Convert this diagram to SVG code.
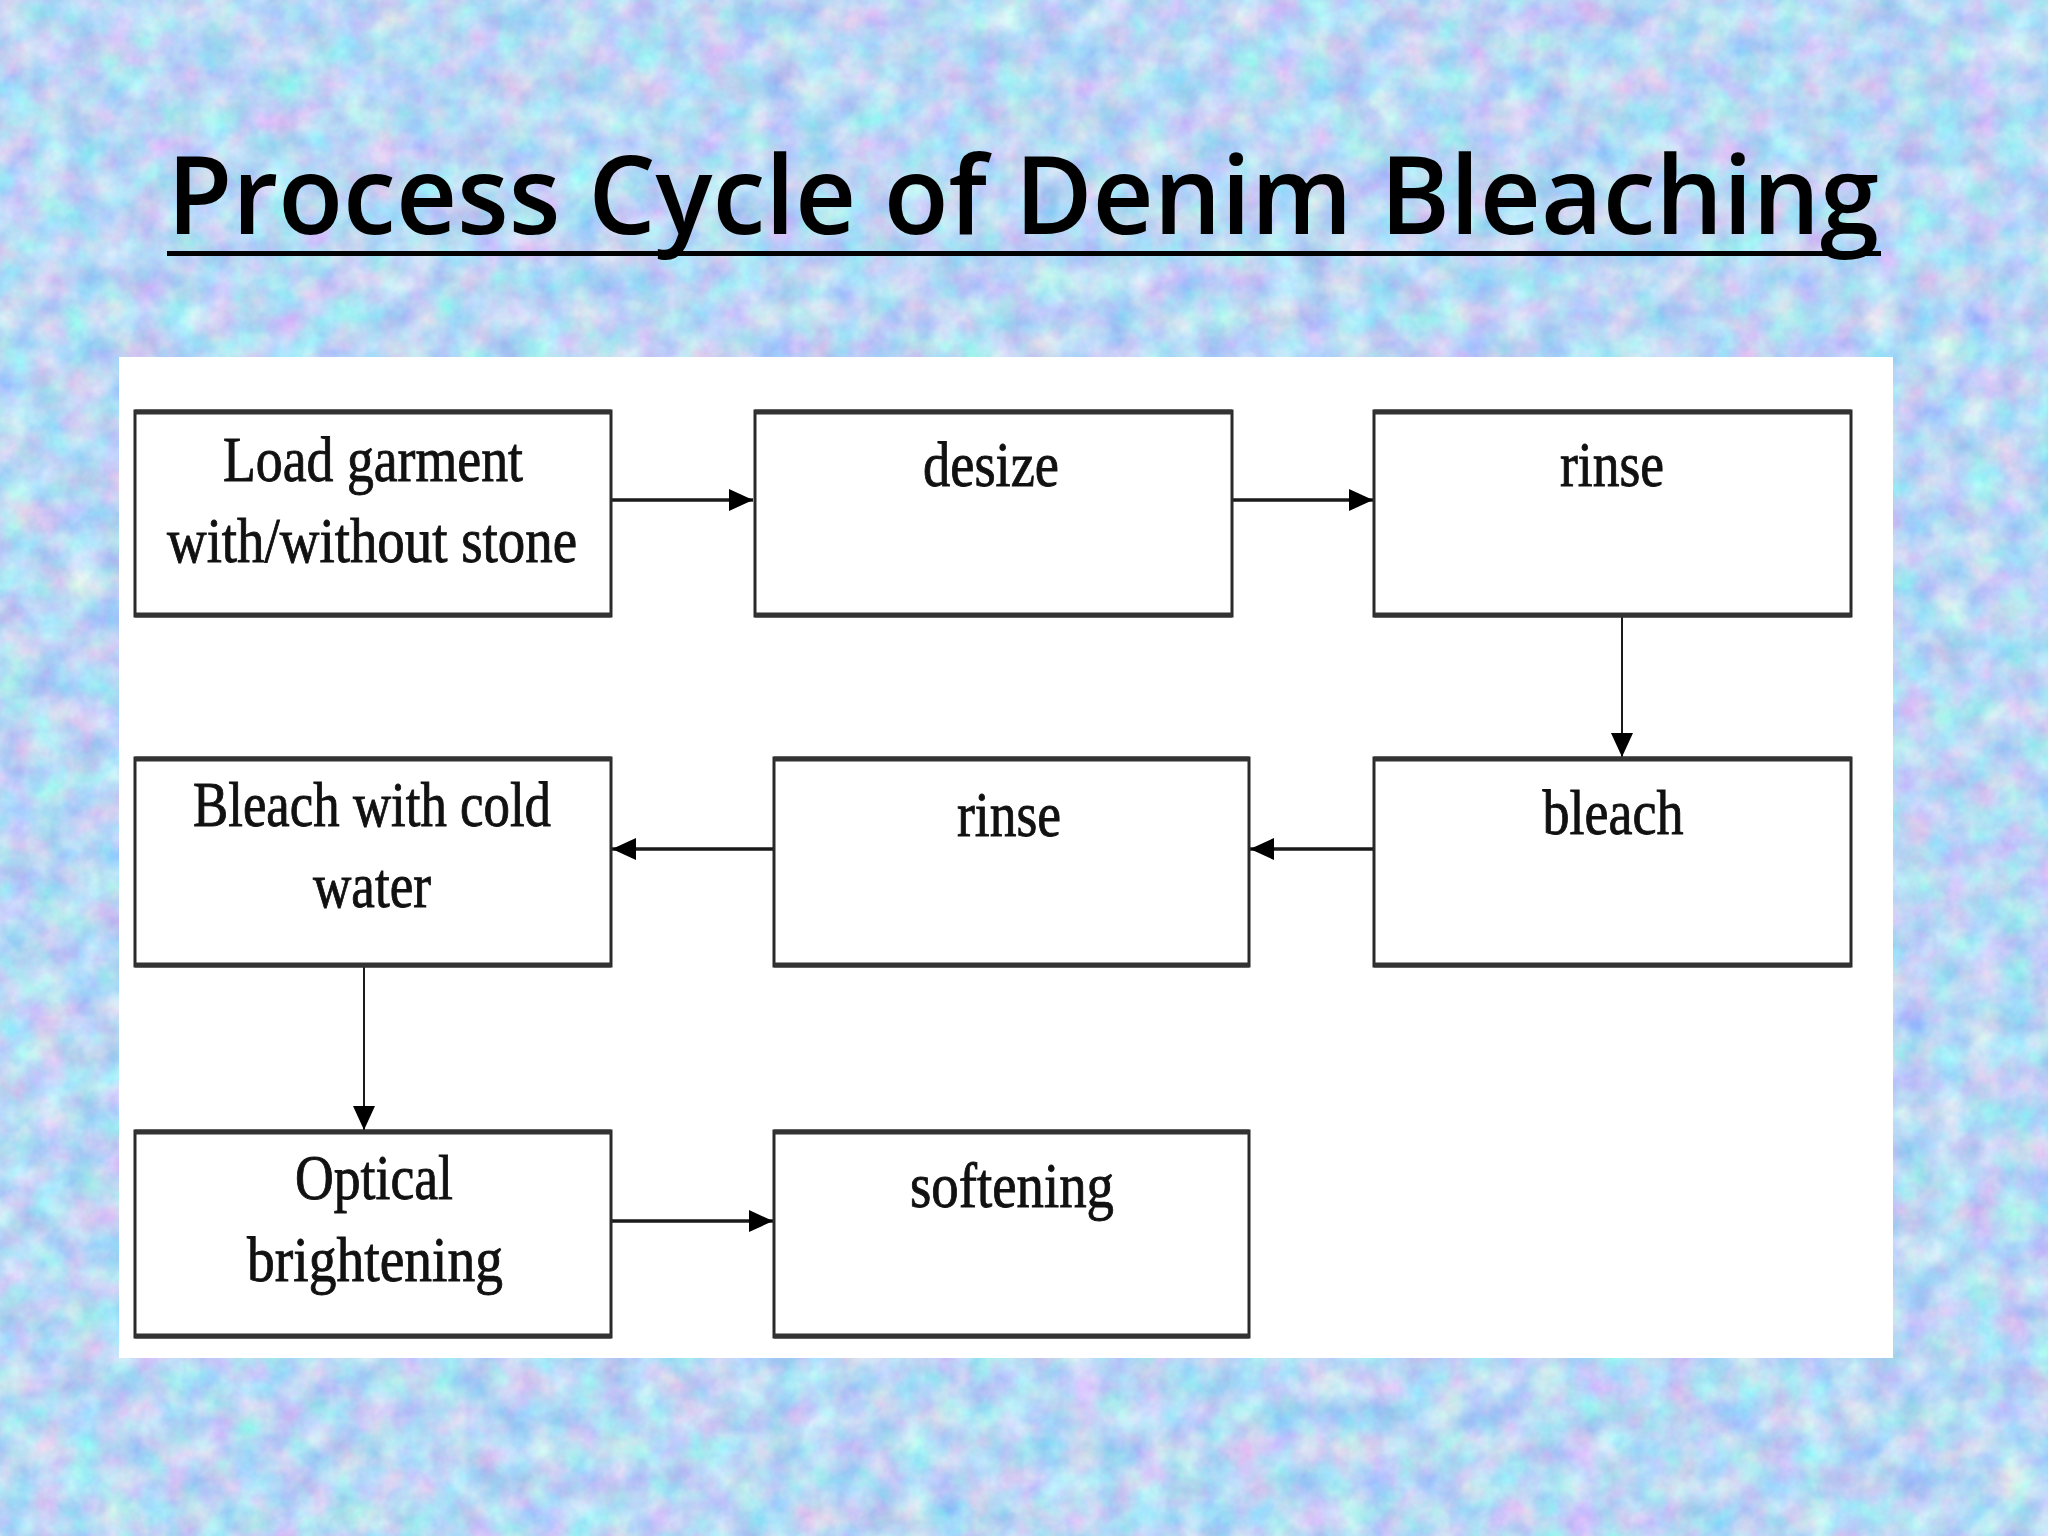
<svg xmlns="http://www.w3.org/2000/svg" width="2048" height="1536" viewBox="0 0 2048 1536">
<style>
.box{fill:#ffffff;stroke:#2a2a2a;stroke-width:3}
.bar{stroke:#333;stroke-width:5}
.edge{fill:none;stroke:#1a1a1a;stroke-width:3.5}
.edge.v{stroke-width:2}
.lbl{font-family:"Liberation Serif","Times New Roman",serif;font-size:64px;fill:#111;stroke:#111;stroke-width:0.9;text-anchor:middle}
.title{font-family:"Open Sans","DejaVu Sans",sans-serif;font-weight:600;font-size:108px;fill:#000}
</style>
<defs>
<filter id="tex" x="0" y="0" width="100%" height="100%" color-interpolation-filters="sRGB">
<feTurbulence type="fractalNoise" baseFrequency="0.03" numOctaves="4" seed="11" result="n"/>
<feColorMatrix in="n" type="matrix" values="0.45 0 0 0 0.5  0 0.35 0 0 0.67  0 0 0.12 0 0.9  0 0 0 0 1"/>
</filter>
<marker id="ah" markerWidth="24" markerHeight="26" refX="24" refY="13" orient="auto" markerUnits="userSpaceOnUse">
<path d="M0,2 L24,13 L0,24 Z" fill="#000"/>
</marker>
</defs>
<rect x="0" y="0" width="2048" height="1536" fill="#bdd3f2"/>
<rect x="0" y="0" width="2048" height="1536" filter="url(#tex)"/>
<g id="title">
<text class="title" x="167" y="234" textLength="1712" lengthAdjust="spacingAndGlyphs">Process Cycle of Denim Bleaching</text>
<rect x="167" y="251" width="1714" height="5" fill="#000"/>
</g>
<rect id="panel" x="119" y="357" width="1774" height="1001" fill="#ffffff"/>
<g id="connectors">
<path class="edge" d="M612,500 H753" marker-end="url(#ah)"/>
<path class="edge" d="M1232,500 H1373" marker-end="url(#ah)"/>
<path class="edge v" d="M1622,617 V757" marker-end="url(#ah)"/>
<path class="edge" d="M1373,849 H1250" marker-end="url(#ah)"/>
<path class="edge" d="M773,849 H612" marker-end="url(#ah)"/>
<path class="edge v" d="M364,967 V1130" marker-end="url(#ah)"/>
<path class="edge" d="M612,1221 H773" marker-end="url(#ah)"/>
</g>
<g id="n1">
<rect class="box" x="135" y="411" width="476" height="205"/>
<path class="bar" d="M135,412 H611 M135,615 H611"/>
<text class="lbl" x="373" y="481" textLength="300" lengthAdjust="spacingAndGlyphs">Load garment</text>
<text class="lbl" x="372" y="562" textLength="410" lengthAdjust="spacingAndGlyphs">with/without stone</text>
</g>
<g id="n2">
<rect class="box" x="755" y="411" width="477" height="205"/>
<path class="bar" d="M755,412 H1232 M755,615 H1232"/>
<text class="lbl" x="991" y="486" textLength="136" lengthAdjust="spacingAndGlyphs">desize</text>
</g>
<g id="n3">
<rect class="box" x="1374" y="411" width="477" height="205"/>
<path class="bar" d="M1374,412 H1851 M1374,615 H1851"/>
<text class="lbl" x="1612" y="486" textLength="104" lengthAdjust="spacingAndGlyphs">rinse</text>
</g>
<g id="n4">
<rect class="box" x="1374" y="758" width="477" height="208"/>
<path class="bar" d="M1374,759 H1851 M1374,965 H1851"/>
<text class="lbl" x="1613" y="834" textLength="141" lengthAdjust="spacingAndGlyphs">bleach</text>
</g>
<g id="n5">
<rect class="box" x="774" y="758" width="475" height="208"/>
<path class="bar" d="M774,759 H1249 M774,965 H1249"/>
<text class="lbl" x="1009" y="836" textLength="104" lengthAdjust="spacingAndGlyphs">rinse</text>
</g>
<g id="n6">
<rect class="box" x="135" y="758" width="476" height="208"/>
<path class="bar" d="M135,759 H611 M135,965 H611"/>
<text class="lbl" x="372" y="826" textLength="358" lengthAdjust="spacingAndGlyphs">Bleach with cold</text>
<text class="lbl" x="372" y="907" textLength="118" lengthAdjust="spacingAndGlyphs">water</text>
</g>
<g id="n7">
<rect class="box" x="135" y="1131" width="476" height="206"/>
<path class="bar" d="M135,1132 H611 M135,1336 H611"/>
<text class="lbl" x="374" y="1199" textLength="158" lengthAdjust="spacingAndGlyphs">Optical</text>
<text class="lbl" x="375" y="1281" textLength="256" lengthAdjust="spacingAndGlyphs">brightening</text>
</g>
<g id="n8">
<rect class="box" x="774" y="1131" width="475" height="206"/>
<path class="bar" d="M774,1132 H1249 M774,1336 H1249"/>
<text class="lbl" x="1012" y="1207" textLength="204" lengthAdjust="spacingAndGlyphs">softening</text>
</g>
</svg>
